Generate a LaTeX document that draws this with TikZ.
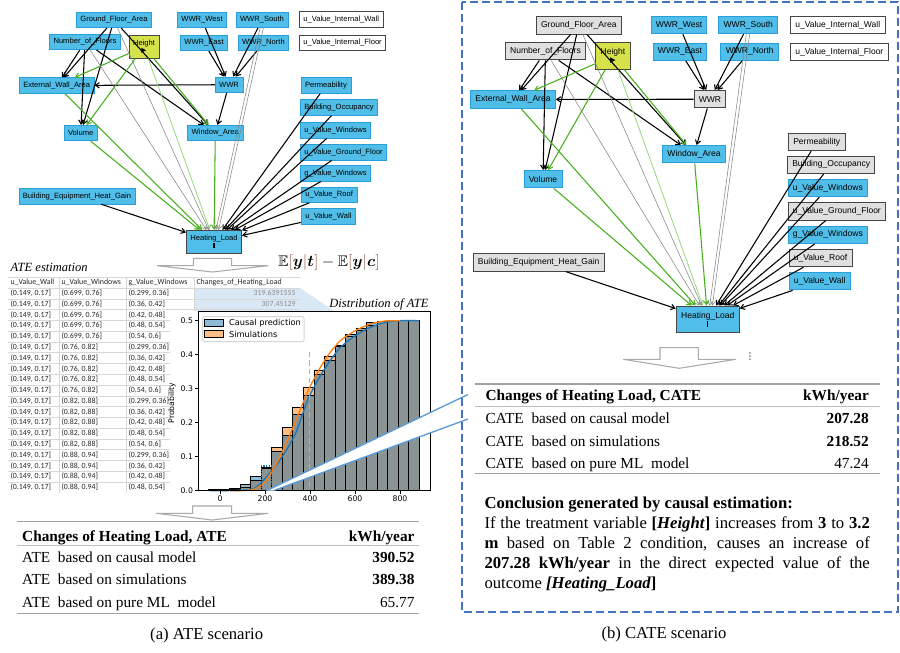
\documentclass[tikz,border=0pt]{standalone}
\usepackage{amsmath, amssymb}
\usepackage{fontspec}
\setmainfont{Liberation Serif}
\newfontfamily\arialfont{Liberation Sans}
\newfontfamily\dejafont{DejaVu Sans}
\newfontfamily\calfont{Carlito}
\usetikzlibrary{arrows.meta}

\definecolor{nblue}{RGB}{80,190,232}
\definecolor{nblueline}{RGB}{40,160,215}
\definecolor{ngray}{RGB}{224,224,224}
\definecolor{ndark}{RGB}{70,70,70}
\definecolor{nyel}{RGB}{214,226,74}
\definecolor{egreen}{RGB}{70,175,30}
\definecolor{elight}{RGB}{150,215,120}
\definecolor{egray}{RGB}{130,130,130}
\definecolor{hblue}{RGB}{143,187,217}
\definecolor{horange}{RGB}{255,191,134}
\definecolor{hgray}{RGB}{138,148,148}
\definecolor{cblue}{RGB}{31,119,180}
\definecolor{corange}{RGB}{255,127,14}
\definecolor{dashyel}{RGB}{240,180,0}
\definecolor{wedgeblue}{RGB}{91,155,213}
\definecolor{frameblue}{RGB}{68,114,196}
\definecolor{pale}{RGB}{218,232,246}
\definecolor{brack}{RGB}{150,85,60}
\definecolor{rulegray}{RGB}{160,160,160}
\definecolor{gridgray}{RGB}{215,215,215}
\definecolor{arrowgray}{RGB}{170,170,170}

\tikzset{every picture/.style={line width=0.75pt}}
\tikzset{
  lnd/.style={draw, line width=0.5pt, inner xsep=3pt, inner ysep=0pt, minimum height=11.6pt, font=\arialfont\fontsize{5.7}{6.5}\selectfont},
  rnd/.style={draw, line width=0.7pt, inner xsep=3.6pt, inner ysep=0pt, minimum height=13.1pt, font=\arialfont\fontsize{6.4}{7.2}\selectfont},
  bl/.style={fill=nblue, draw=nblueline},
  gy/.style={fill=ngray, draw=ndark},
  wh/.style={fill=white, draw=ndark},
  yl/.style={fill=nyel, draw=ndark, align=center},
  hl/.style={fill=nblue, draw=ndark, align=center},
  tip/.style={-{Straight Barb[length=3pt,width=4pt]}},
  blk/.style={tip, draw=black, line width=0.8pt},
  grn/.style={tip, draw=egreen, line width=0.8pt},
  lgrn/.style={tip, draw=elight, line width=0.6pt},
  gry/.style={tip, draw=egray, line width=0.4pt},
  blockarrow/.style={draw=arrowgray, fill=white, line width=0.8pt},
  cell/.style={anchor=west, inner sep=0pt, text=black!85, font=\calfont\fontsize{5.9}{6.5}\selectfont},
  gridln/.style={draw=gridgray, line width=0.4pt},
  bar/.style={draw=black, line width=0.5pt},
  ticklbl/.style={inner sep=0pt, font=\dejafont\fontsize{5.8}{6.5}\selectfont},
  tabtxt/.style={inner sep=0pt, font=\fontsize{11.5}{13}\selectfont},
  tabrule/.style={draw=rulegray, line width=1.1pt},
  thinrule/.style={draw=rulegray!70, line width=0.6pt}
}

\begin{document}
\begin{tikzpicture}[x=0.75pt,y=0.75pt,yscale=-1,xscale=1]
\useasboundingbox (0,0) rectangle (900,653);

%%%%% (a) causal graph
\node[lnd,bl] (a-gfa) at (114,20) {Ground\_Floor\_Area};
\node[lnd,bl] (a-nof) at (85,42) {Number\_of\_Floors};
\node[lnd,yl,minimum width=21.75pt,minimum height=17.25pt] (a-hgt) at (144,46.7) {Height\\[-1pt]{\dejafont\fontsize{5}{5}\selectfont ▶}};
\node[lnd,bl] (a-ewa) at (56.7,85.5) {External\_Wall\_Area};
\node[lnd,bl] (a-wwrw) at (202,20) {WWR\_West};
\node[lnd,bl] (a-wwrs) at (262,20) {WWR\_South};
\node[lnd,wh,anchor=west] (a-uiw) at (299,19.5) {u\_Value\_Internal\_Wall};
\node[lnd,bl] (a-wwre) at (204,43) {WWR\_East};
\node[lnd,bl] (a-wwrn) at (263.5,43) {WWR\_North};
\node[lnd,wh,anchor=west] (a-uif) at (299,43) {u\_Value\_Internal\_Floor};
\node[lnd,bl] (a-wwr) at (229,84.7) {WWR};
\node[lnd,bl,anchor=west] (a-perm) at (300.7,85.5) {Permeability};
\node[lnd,bl,anchor=west] (a-bocc) at (300,107.5) {Building\_Occupancy};
\node[lnd,bl] (a-vol) at (80.7,133) {Volume};
\node[lnd,bl] (a-wa) at (215.3,133) {Window\_Area};
\node[lnd,bl,anchor=west] (a-uwin) at (300,130.3) {u\_Value\_Windows};
\node[lnd,bl,anchor=west] (a-ugf) at (300,152.2) {u\_Value\_Ground\_Floor};
\node[lnd,bl,anchor=west] (a-gwin) at (300,173.3) {g\_Value\_Windows};
\node[lnd,bl,anchor=west] (a-uroof) at (301,194.7) {u\_Value\_Roof};
\node[lnd,bl,anchor=west] (a-uwall) at (301,216.3) {u\_Value\_Wall};
\node[lnd,bl] (a-behg) at (77,196.2) {Building\_Equipment\_Heat\_Gain};
\node[lnd,hl,minimum width=41.25pt,minimum height=17.25pt] (a-hl) at (214,241.7) {Heating\_Load\\[-1pt]\rule{1pt}{3.5pt}};

%%%%% (b) causal graph
\node[rnd,gy] (b-gfa) at (578.8,25.3) {Ground\_Floor\_Area};
\node[rnd,gy] (b-nof) at (545.5,51.2) {Number\_of\_Floors};
\node[rnd,yl,minimum width=25.5pt,minimum height=20pt] (b-hgt) at (613,56) {Height\\[-1pt]{\dejafont\fontsize{5.5}{5.5}\selectfont ▶}};
\node[rnd,bl] (b-ewa) at (513,99.5) {External\_Wall\_Area};
\node[rnd,bl] (b-wwrw) at (679,25) {WWR\_West};
\node[rnd,bl] (b-wwrs) at (748.3,25) {WWR\_South};
\node[rnd,wh,anchor=west] (b-uiw) at (790,25) {u\_Value\_Internal\_Wall};
\node[rnd,bl] (b-wwre) at (680,51.7) {WWR\_East};
\node[rnd,bl] (b-wwrn) at (749.7,51.7) {WWR\_North};
\node[rnd,wh,anchor=west] (b-uif) at (790,52) {u\_Value\_Internal\_Floor};
\node[rnd,gy] (b-wwr) at (710,99.2) {WWR};
\node[rnd,bl] (b-vol) at (543,179.2) {Volume};
\node[rnd,bl] (b-wa) at (694,154.2) {Window\_Area};
\node[rnd,gy,anchor=west] (b-perm) at (788,142) {Permeability};
\node[rnd,gy,anchor=west] (b-bocc) at (787,164.7) {Building\_Occupancy};
\node[rnd,bl,anchor=west] (b-uwin) at (787.5,188) {u\_Value\_Windows};
\node[rnd,gy,anchor=west] (b-ugf) at (787.5,211.3) {u\_Value\_Ground\_Floor};
\node[rnd,bl,anchor=west] (b-gwin) at (787.5,234.7) {g\_Value\_Windows};
\node[rnd,gy,anchor=west] (b-uroof) at (788.5,258) {u\_Value\_Roof};
\node[rnd,bl,anchor=west] (b-uwall) at (788.5,281.2) {u\_Value\_Wall};
\node[rnd,gy] (b-behg) at (538.7,262.5) {Building\_Equipment\_Heat\_Gain};
\node[rnd,hl,minimum width=47.25pt,minimum height=20pt] (b-hl) at (707.7,319.3) {Heating\_Load\\[-1pt]\rule{1.1pt}{4pt}};

% edges, same graph in both panels
\foreach \p in {a,b}{
  \foreach \u/\v in {gfa/ewa,gfa/vol,nof/ewa,nof/vol,nof/wa,gfa/wa,wwr/ewa,wwrw/wwr,wwre/wwr,wwrs/wwr,wwrn/wwr,wwr/wa,behg/hl,perm/hl,bocc/hl,uwin/hl,ugf/hl,gwin/hl,uroof/hl,uwall/hl}
    \draw[blk] (\p-\u) -- (\p-\v);
  \foreach \u/\v in {hgt/ewa,hgt/vol,hgt/wa,ewa/hl,vol/hl,wa/hl}
    \draw[grn] (\p-\u) -- (\p-\v);
  \draw[lgrn] (\p-hgt) -- (\p-hl);
  \foreach \u in {nof,gfa}
    \draw[gry] (\p-\u) -- (\p-hl);
  \draw[gry] ([xshift=-1.5pt]\p-wwrs.south) -- ([xshift=1.5pt]\p-hl.north);
  \draw[gry] ([xshift=1pt]\p-wwrs.south) -- ([xshift=3.5pt]\p-hl.north);
}

% block arrows
\draw[blockarrow] (193.3,258.3) -- (193.3,265.7) -- (157,265.7) -- (212.5,272) -- (268,265.7) -- (231.7,265.7) -- (231.7,258.3) -- cycle;
\draw[blockarrow] (192.7,506) -- (192.7,513.3) -- (156,513.3) -- (212.2,520) -- (268.3,513.3) -- (231.7,513.3) -- (231.7,506) -- cycle;
\draw[blockarrow] (660,347.7) -- (660,359.3) -- (623.3,359.3) -- (679.2,368.3) -- (736,359.3) -- (698.3,359.3) -- (698.3,347.7) -- cycle;
\node[inner sep=0pt, font=\dejafont\fontsize{7}{7}\selectfont] (b-dots) at (750,357) {⋮};

% estimator
\node[inner sep=0pt] (ate-eq) at (329,262.5) {\fontsize{11.5}{12}\selectfont $\mathbb{E}\textcolor{brack}{[}\boldsymbol{y}\textcolor{brack}{|}\boldsymbol{t}\textcolor{brack}{]} - \mathbb{E}\textcolor{brack}{[}\boldsymbol{y}\textcolor{brack}{|}\boldsymbol{c}\textcolor{brack}{]}$};
\node[inner sep=0pt, anchor=west, font=\fontsize{9.4}{10}\selectfont\itshape] (ate-title) at (10,267.5) {ATE estimation};

%%%%% ATE estimation table
\fill[pale] (194,288) -- (300,288) -- (334,311) -- (194,311) -- cycle;
\begin{scope}
\clip (0,274) rectangle (305,492.5);
\draw[gridln] (8,277.5) -- (300,277.5);
\foreach \i in {0,...,19}
  \draw[gridln] (8,{288+\i*10.78}) -- (300,{288+\i*10.78});
\foreach \x in {59,126.5,194}
  \draw[gridln] (\x,277.5) -- (\x,495);
\node[cell] (h-a) at (10,282.7) {u\_Value\_Wall};
\node[cell] (h-b) at (61,282.7) {u\_Value\_Windows};
\node[cell] (h-c) at (128,282.7) {g\_Value\_Windows};
\node[cell] (h-d) at (196,282.7) {Changes\_of\_Heating\_Load};
\node[cell,anchor=east,text=black!45] (r1-d) at (296,293.3) {319.6391555};
\node[cell,anchor=east,text=black!45] (r2-d) at (296,304.1) {307.45129};
\foreach \i in {1,...,19}{
  \pgfmathsetmacro\ry{293.3+(\i-1)*10.78}
  \pgfmathtruncatemacro\g{(\i-1)/5}
  \pgfmathtruncatemacro\k{mod(\i-1,5)}
  \node[cell] (r\i-a) at (10,\ry) {(0.149, 0.17]};
  \node[cell] (r\i-b) at (61,\ry) {\ifcase\g (0.699, 0.76]\or (0.76, 0.82]\or (0.82, 0.88]\else (0.88, 0.94]\fi};
  \node[cell] (r\i-c) at (128,\ry) {\ifcase\k (0.299, 0.36]\or (0.36, 0.42]\or (0.42, 0.48]\or (0.48, 0.54]\else (0.54, 0.6]\fi};
}
\end{scope}

%%%%% Distribution of ATE
\fill[white] (170,311) rectangle (434,503);
\node[inner sep=0pt, font=\fontsize{9.4}{10}\selectfont\itshape] (dist-title) at (379,304) {Distribution of ATE};
\foreach \c/\s [count=\i from 0] in {0.004/0.001,0.004/0.002,0.007/0.005,0.02/0.01,0.043/0.031,0.07/0.065,0.115/0.127,0.164/0.186,0.224/0.245,0.281/0.304,0.342/0.355,0.384/0.396,0.424/0.428,0.46/0.453,0.477/0.473,0.494/0.487,0.498/0.498,0.5/0.5,0.5/0.5,0.5/0.5}{
  \pgfmathsetmacro\xl{208.5+10.54*\i}
  \pgfmathsetmacro\xr{\xl+10.54}
  \pgfmathsetmacro\lo{min(\c,\s)}
  \filldraw[bar,fill=hgray] (\xl,490.7) rectangle (\xr,{490.7-340*\lo});
  \filldraw[bar,fill=hblue] (\xl,{490.7-340*\lo}) rectangle (\xr,{490.7-340*\c});
  \filldraw[bar,fill=horange] (\xl,{490.7-340*\lo}) rectangle (\xr,{490.7-340*\s});
}
\draw[cblue, line width=1pt] plot[smooth] coordinates {(210,490.7) (240,490.3) (255,488) (266.7,476.7) (280,460) (295,434.6) (309,396.9) (325,368.3) (340,347.9) (355,336) (370,327.5) (385,322.4) (400,320.7) (419,320.7)};
\draw[corange, line width=1pt] plot[smooth] coordinates {(230,490.7) (245,490.5) (255,489) (266,480.5) (280,456.7) (295,422.7) (309,388.7) (325,359.8) (340,341) (355,330.9) (370,324.1) (385,321) (400,320.7)};
\draw[dashyel, line width=1.2pt, dash pattern=on 4pt off 2.5pt] (309.5,351.7) -- (309.5,490.7);
\draw[cblue, line width=1pt, densely dotted] (261.2,490.7) rectangle (271.7,466);
\draw[line width=0.6pt] (198,311.7) rectangle (430,490.7);
\foreach \k in {0,...,5}{
  \draw[line width=0.6pt] (198,{490.7-34*\k}) -- (195,{490.7-34*\k});
  \node[ticklbl,anchor=east] (yt\k) at (193.5,{490.7-34*\k}) {0.\k};
}
\foreach \v in {0,200,400,600,800}{
  \draw[line width=0.6pt] ({220+0.225*\v},490.7) -- ++(0,3);
  \node[ticklbl,anchor=north] (xt\v) at ({220+0.225*\v},495) {\v};
}
\node[ticklbl,rotate=90] (ylab) at (172,403) {Probability};
\draw[draw=gridgray, fill=white, rounded corners=1.5pt] (202.7,316.7) rectangle (304,341.7);
\filldraw[bar,fill=hblue] (204.5,319.5) rectangle (223,326.5);
\filldraw[bar,fill=horange] (204.5,330.7) rectangle (223,337.5);
\node[ticklbl,anchor=west,font=\dejafont\fontsize{6.2}{7}\selectfont] (leg-c) at (228.5,323) {Causal prediction};
\node[ticklbl,anchor=west,font=\dejafont\fontsize{6.2}{7}\selectfont] (leg-s) at (228.5,334.2) {Simulations};

% zoom wedge to the CATE table
\coordinate (wedge-a) at (266.5,490.7);
\coordinate (wedge-b) at (273.3,490.7);
\coordinate (wedge-c) at (468,394.5);
\coordinate (wedge-d) at (468,419);
\fill[white] (wedge-a) -- (wedge-c) -- (wedge-d) -- (wedge-b) -- cycle;
\draw[wedgeblue, line width=1pt] (wedge-a) -- (wedge-c);
\draw[wedgeblue, line width=1pt] (wedge-b) -- (wedge-d);

%%%%% ATE table
\draw[tabrule] (16.7,521.7) -- (419.3,521.7);
\draw[thinrule] (16.7,545.7) -- (419.3,545.7);
\draw[tabrule] (16.7,613.3) -- (419.3,613.3);
\node[tabtxt,anchor=base west] (a-th) at (21.7,541) {\textbf{Changes of Heating Load, ATE}};
\node[tabtxt,anchor=base east] (a-tu) at (415,541) {\textbf{kWh/year}};
\foreach \lbl/\val/\y [count=\i] in {ATE~ based on causal model/\textbf{390.52}/562.3, ATE~ based on simulations/\textbf{389.38}/584.3, ATE~ based on pure ML~ model/65.77/607.3}{
  \node[tabtxt,anchor=base west] (a-r\i) at (21.7,\y) {\lbl};
  \node[tabtxt,anchor=base east] (a-v\i) at (415,\y) {\val};
}
\node[inner sep=0pt, anchor=base, font=\fontsize{12.5}{14}\selectfont] (a-cap) at (206.7,639) {(a) ATE scenario};

%%%%% CATE panel
\draw[frameblue, line width=1.5pt, dash pattern=on 6pt off 3pt] (462,2) rectangle (898,612);
\draw[tabrule] (475,384) -- (880,384);
\draw[thinrule] (475,406) -- (880,406);
\draw[tabrule] (475,473.3) -- (880,473.3);
\node[tabtxt,anchor=base west] (b-th) at (485,400.7) {\textbf{Changes of Heating Load, CATE}};
\node[tabtxt,anchor=base east] (b-tu) at (869.3,400.7) {\textbf{kWh/year}};
\foreach \lbl/\val/\y [count=\i] in {CATE~ based on causal model/\textbf{207.28}/423.3, CATE~ based on simulations/\textbf{218.52}/446, CATE~ based on pure ML~ model/47.24/468.3}{
  \node[tabtxt,anchor=base west] (b-r\i) at (485,\y) {\lbl};
  \node[tabtxt,anchor=base east] (b-v\i) at (869.3,\y) {\val};
}
\node[inner sep=0pt, anchor=base west, text width=289pt, align=justify, font=\fontsize{12.5}{15}\selectfont] (b-concl) at (484,508.3)
  {\textbf{Conclusion generated by causal estimation:}\\
   If the treatment variable \textbf{[\textit{Height}]} increases from \textbf{3} to \textbf{3.2}\linebreak
   \textbf{m} based on Table 2 condition, causes an increase of\linebreak
   \textbf{207.28 kWh/year} in the direct expected value of the\linebreak
   outcome \textbf{\textit{[Heating\_Load}]}};
\node[inner sep=0pt, anchor=base, font=\fontsize{12.5}{14}\selectfont] (b-cap) at (664,638) {(b) CATE scenario};

\end{tikzpicture}
\end{document}
